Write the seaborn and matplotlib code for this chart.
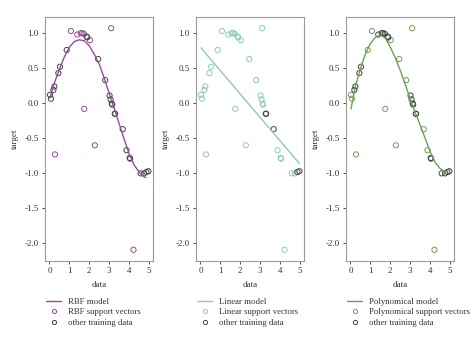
import numpy as np
import pandas as pd
import matplotlib
matplotlib.use("Agg")
import matplotlib.pyplot as plt
import seaborn as sns
from matplotlib.lines import Line2D

# training data
data_x = [0.03, 0.08, 0.28, 0.20, 0.25, 0.45, 0.53, 0.87, 1.08, 1.40, 1.57, 1.65, 1.73, 1.75,
          1.87, 1.90, 2.03, 2.28, 2.45, 2.80, 3.10, 3.02, 3.07, 3.13, 3.15, 3.28, 3.30, 3.68,
          3.87, 4.03, 4.05, 4.22, 4.58, 4.75, 4.87, 4.97]
data_y = [0.12, 0.065, -0.73, 0.19, 0.24, 0.43, 0.52, 0.76, 1.03, 0.98, 1.00, 1.00, 0.99, -0.08,
          0.95, 0.94, 0.90, -0.60, 0.63, 0.33, 1.07, 0.11, 0.055, -0.005, -0.02, -0.15, -0.15, -0.37,
          -0.67, -0.78, -0.79, -2.09, -1.00, -1.00, -0.98, -0.97]

# support-vector flags per model (1 = support vector)
sv_rbf = [0, 0, 1, 0, 0, 0, 0, 0, 1, 1, 1, 1, 1, 1,
          0, 0, 1, 1, 0, 0, 1, 0, 0, 0, 0, 0, 0, 0,
          0, 0, 0, 1, 0, 0, 0, 0]
sv_lin = [1, 1, 1, 1, 1, 1, 1, 1, 1, 1, 1, 1, 1, 1,
          1, 1, 1, 1, 1, 1, 1, 1, 1, 1, 1, 0, 0, 0,
          1, 1, 1, 1, 1, 1, 0, 0]
sv_poly = [1, 1, 1, 0, 0, 0, 0, 1, 1, 0, 0, 0, 0, 1,
           0, 0, 1, 1, 1, 1, 1, 0, 0, 0, 0, 0, 0, 1,
           1, 0, 0, 1, 0, 0, 0, 0]

# model curves
rbf_x = [0.03, 0.25, 0.5, 0.75, 1.0, 1.25, 1.5, 1.75, 2.0, 2.25, 2.5, 2.75, 3.0, 3.25, 3.5,
         3.75, 4.0, 4.25, 4.5, 4.7, 4.85]
rbf_y = [0.08, 0.29, 0.48, 0.66, 0.80, 0.88, 0.905, 0.89, 0.82, 0.70, 0.56, 0.36, 0.14, -0.07,
         -0.29, -0.51, -0.72, -0.88, -0.98, -1.04, -1.06]
lin_x = [0.03, 4.97]
lin_y = [0.79, -0.86]
poly_x = [0.03, 0.25, 0.5, 0.75, 1.0, 1.25, 1.5, 1.75, 2.0, 2.25, 2.5, 2.75, 3.0, 3.25, 3.5,
          3.75, 4.0, 4.25, 4.5, 4.7, 4.9]
poly_y = [-0.08, 0.24, 0.49, 0.70, 0.85, 0.94, 0.975, 0.93, 0.80, 0.65, 0.47, 0.27, 0.065, -0.13,
          -0.31, -0.50, -0.69, -0.84, -0.93, -0.97, -0.98]

kernel_names = ["RBF", "Linear", "Polynomical"]
model_colors = ["#944c9e", "#8cc9bf", "#6f9e55"]
other_color = "#444444"

sns.set_style("ticks", {"axes.grid": False})
plt.rcParams["axes.grid"] = False
plt.rcParams["font.family"] = ["Liberation Serif", "DejaVu Serif"]
plt.rcParams["axes.unicode_minus"] = False

fig = plt.figure(figsize=(4.74, 3.40), dpi=100)
W, H = 474, 340
lefts = [45, 196, 346]
aw = 108
top, bottom = 17, 261

curves = [(rbf_x, rbf_y), (lin_x, lin_y), (poly_x, poly_y)]
svs = [sv_rbf, sv_lin, sv_poly]
df = pd.DataFrame({"x": data_x, "y": data_y})

for i in range(3):
    ax = fig.add_axes([lefts[i] / W, 1 - bottom / H, aw / W, (bottom - top) / H])
    col = model_colors[i]
    cx, cy = curves[i]
    sns.lineplot(x=cx, y=cy, ax=ax, color=col, lw=1.0, sort=False)
    sv = np.array(svs[i], dtype=bool)
    d_sv = df[sv]
    d_ot = df[~sv]
    sns.scatterplot(data=d_sv, x="x", y="y", ax=ax, marker="o", s=14,
                    facecolor="none", edgecolor=col, linewidth=0.7)
    sns.scatterplot(data=d_ot, x="x", y="y", ax=ax, marker="o", s=14,
                    facecolor="none", edgecolor=other_color, linewidth=0.7)
    ax.set_xlim(-0.22, 5.2)
    ax.set_ylim(-2.25, 1.23)
    ax.set_xticks([0, 1, 2, 3, 4, 5])
    ax.set_yticks([-2.0, -1.5, -1.0, -0.5, 0.0, 0.5, 1.0])
    ax.set_yticklabels(["-2.0", "-1.5", "-1.0", "-0.5", "0.0", "0.5", "1.0"])
    ax.tick_params(labelsize=6.5, colors="#333333", length=2.5, width=0.6, pad=2)
    ax.grid(False)
    for sp in ax.spines.values():
        sp.set_color("#999999")
        sp.set_linewidth(0.8)
    ax.set_xlabel("data", fontsize=6.5, color="#333333", labelpad=4)
    ax.set_ylabel("target", fontsize=6.5, color="#333333", labelpad=4)
    handles = [
        Line2D([], [], color=col, lw=1.0),
        Line2D([], [], marker="o", ls="none", mfc="none", mec=col, ms=3, mew=0.7),
        Line2D([], [], marker="o", ls="none", mfc="none", mec=other_color, ms=3, mew=0.7),
    ]
    labels = [f"{kernel_names[i]} model", f"{kernel_names[i]} support vectors",
              "other training data"]
    ax.legend(handles, labels, loc="upper left", bbox_to_anchor=(-0.02, -0.135),
              frameon=False, fontsize=6.3, handlelength=1.7, handletextpad=0.8,
              labelspacing=0.3, borderaxespad=0, labelcolor="#333333")

fig.savefig("out.png", dpi=100)
